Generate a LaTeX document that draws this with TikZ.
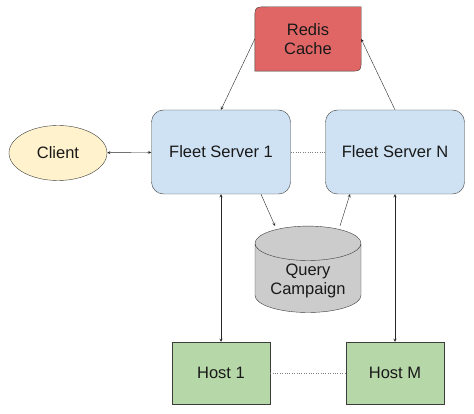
\documentclass[tikz,border=0pt]{standalone}
\usepackage{fontspec}
\setmainfont{Liberation Sans}
\usepackage{tikz}
\usepackage{xcolor}
\usetikzlibrary{shapes.geometric}
\usetikzlibrary{positioning}
\definecolor{redisred}{HTML}{E06666}
\definecolor{fleetblue}{HTML}{CFE2F3}
\definecolor{clientyellow}{HTML}{FFF2CC}
\definecolor{querygray}{HTML}{CCCCCC}
\definecolor{hostgreen}{HTML}{B6D7A8}
\definecolor{linegray}{HTML}{3C3C3C}
\tikzstyle{server} = [rectangle, rounded corners=12pt, minimum width=139pt, minimum height=84pt, text centered, draw=linegray, fill=fleetblue]
\tikzstyle{host} = [rectangle, minimum width=98pt, minimum height=62pt, text centered, draw=linegray, fill=hostgreen]
\tikzstyle{client} = [ellipse, minimum width=98pt, minimum height=55pt, text centered, draw=linegray, fill=clientyellow]
\tikzstyle{campaign} = [cylinder, shape border rotate=90, aspect=0.42, minimum width=106pt, minimum height=75pt, align=center, draw=linegray, fill=querygray]
\tikzstyle{arrow} = [->,>=stealth, black!85]
\tikzstyle{both} = [<->,>=stealth, black!85]
\tikzstyle{link} = [dotted, gray]

\begin{document}
\begin{tikzpicture}[x=1pt, y=-1pt, font=\fontsize{16.5}{19}\selectfont, text=black!90]
        \useasboundingbox (0,0) rectangle (474,414);
        \node (redis) [minimum width=106pt, minimum height=64pt, align=center] at (308,39) {};
        \node (fleet1) [server] at (221,152) {Fleet Server 1};
        \node (fleetN) [server] at (395,152) {Fleet Server N};
        \node (client) [client] at (58,153) {Client};
        \node (query) [campaign] at (308,281) {Query\\Campaign};
        \node (host1) [host] at (221,373) {Host 1};
        \node (hostM) [host] at (395,373) {Host M};

        % redis box, only two corners rounded
        \draw [draw=linegray, fill=redisred] (redis.north east) -- ([xshift=13pt]redis.north west) .. controls (redis.north west) .. ([yshift=-13pt]redis.north west) -- (redis.south west) -- ([xshift=-13pt]redis.south east) .. controls (redis.south east) .. ([yshift=13pt]redis.south east) -- cycle;
        \node (redistext) at (redis) [align=center] {Redis\\Cache};

        \draw [both] (client) -- (fleet1);
        \draw [link] (fleet1) -- (fleetN);
        \draw [link] (host1) -- (hostM);
        \draw [arrow] (redis.west) -- (fleet1.north);
        \draw [arrow] (fleetN.north) -- (redis.east);
        \draw [arrow] ([xshift=40pt]fleet1.south) -- ([xshift=-33pt]query.north);
        \draw [arrow] ([xshift=32pt]query.north) -- ([xshift=-45pt]fleetN.south);
        \draw [both] (host1.north) -- (fleet1.south);
        \draw [both] (hostM.north) -- (fleetN.south);
\end{tikzpicture}
\end{document}
